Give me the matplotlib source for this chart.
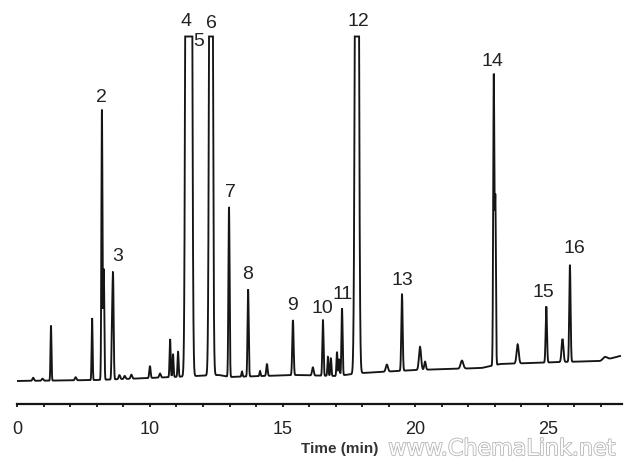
import numpy as np
import matplotlib
matplotlib.use("Agg")
import matplotlib.pyplot as plt
import matplotlib.patheffects as pe
from matplotlib import font_manager as fm
from matplotlib.ticker import MultipleLocator

# ---------------- data ----------------
# baseline level of the detector trace (time in min, response in arbitrary units)
base_time = [5.0, 8.0, 10.0, 11.7, 12.6, 13.0, 15.5, 17.0, 18.0, 20.0, 22.5, 23.2, 25.5, 27.0, 27.72]
base_level = [23, 24, 26, 28, 29, 27, 29, 28, 31, 34, 36, 40, 42, 43, 48]

# peaks: retention time (min), height above baseline, width (sigma, min)
peak_time = [5.60, 5.95, 6.27, 7.20, 7.82, 8.19, 8.26, 8.57, 8.61, 8.85, 9.05, 9.30,
             10.00, 10.38, 10.76, 10.87, 11.06, 11.40, 11.53, 12.30, 12.98, 13.47,
             13.70, 14.15, 14.41, 15.39, 16.14, 16.52, 16.71, 16.82, 17.05, 17.13,
             17.24, 17.80, 18.93, 19.50, 20.18, 20.37, 21.76, 22.96, 23.02, 23.86,
             24.94, 25.55, 25.83, 27.15]
peak_height = [3, 2, 55, 3, 62, 270, 110, 45, 100, 4, 3, 4,
               12, 4, 38, 23, 25, 1400, 1100, 1400, 170, 5,
               87, 5, 12, 55, 8, 56, 19, 18, 24, 16,
               67, 1400, 7, 77, 23, 8, 8, 290, 163, 19,
               56, 23, 97, 3]
peak_sigma = [0.03, 0.03, 0.018, 0.03, 0.018, 0.02, 0.02, 0.02, 0.022, 0.03, 0.03, 0.03,
              0.025, 0.03, 0.02, 0.02, 0.02, 0.045, 0.045, 0.045, 0.022, 0.02,
              0.022, 0.02, 0.025, 0.025, 0.03, 0.022, 0.02, 0.02, 0.02, 0.02,
              0.022, 0.05, 0.04, 0.025, 0.04, 0.03, 0.05, 0.022, 0.02, 0.04,
              0.025, 0.035, 0.025, 0.08]

# numbered peak labels
label_names = ["2", "3", "4", "5", "6", "7", "8", "9", "10", "11", "12", "13", "14", "15", "16"]
label_times = [8.19, 8.61, 11.40, 11.53, 12.30, 12.98, 13.70, 15.39, 16.52, 17.24, 17.80,
               19.50, 22.96, 24.94, 25.83]

tick_pos = [5, 10, 15, 20, 25]
tick_labels = ["0", "10", "15", "20", "25"]
xlabel_text = "Time (min)"
watermark = "www.ChemaLink.net"

# ---------------- style / layout ----------------
names = {f.name for f in fm.fontManager.ttflist}
narrow = "Liberation Sans Narrow" if "Liberation Sans Narrow" in names else "Liberation Sans"

W, H = 635, 471
fig = plt.figure(figsize=(W / 100, H / 100), dpi=100)
px_left, px_right, px_bottom, px_top = 17.3, 622, 404, 35
ax = fig.add_axes([px_left / W, 1 - px_bottom / H, (px_right - px_left) / W,
                   (px_bottom - px_top) / H])
XMIN, XMAX = 5.0, 5.0 + (px_right - px_left) / 26.53
YTOP = 369.0
SAT = 367.5

t = np.linspace(5.0, 27.72, 12000)
sig = np.interp(t, base_time, base_level)
for tp, hp, sp in zip(peak_time, peak_height, peak_sigma):
    sig = sig + hp * np.exp(-0.5 * ((t - tp) / sp) ** 2)
sig = np.minimum(sig, SAT)

ax.plot(t, sig, color="#151515", lw=1.35, solid_joinstyle="miter")
ax.set_xlim(XMIN, XMAX)
ax.set_ylim(0, YTOP)

for s in ("top", "right", "left"):
    ax.spines[s].set_visible(False)
ax.spines["bottom"].set_linewidth(1.6)
ax.spines["bottom"].set_color("#151515")
ax.set_yticks([])
ax.set_xticks(tick_pos)
ax.set_xticklabels(tick_labels, fontfamily=narrow, fontsize=13, color="#222222")
ax.xaxis.set_minor_locator(MultipleLocator(1))
ax.tick_params(axis="x", which="both", direction="out", length=2.5, width=1.3,
               color="#151515", pad=10)

# peak labels: (dx px, dy px) offsets from the peak apex
label_offsets = {"2": (0, 4), "3": (5, 7), "4": (-1, 7), "5": (8, -13), "6": (0, 5),
                 "7": (1, 6), "8": (-1, 6), "9": (0, 6), "10": (-1, 3), "11": (1, 5),
                 "12": (1, 6), "13": (0, 5), "14": (-1, 4), "15": (-3, 5), "16": (4, 8)}
for name, lt in zip(label_names, label_times):
    i = np.argmin(np.abs(t - lt))
    ytop = sig[max(i - 20, 0):i + 20].max()
    dx, dy = label_offsets[name]
    ax.annotate(name, xy=(lt, ytop), xytext=(dx * 0.72, dy * 0.72),
                textcoords="offset points", ha="center", va="bottom",
                fontfamily=narrow, fontsize=14, color="#222222", annotation_clip=False)

fig.text(340 / W, 1 - 449 / H, xlabel_text, ha="center", va="center",
         fontfamily=narrow, fontweight="bold", fontsize=11, color="#333333")
fig.text(502 / W, 1 - 449 / H, watermark, ha="center", va="center",
         fontfamily="DejaVu Sans", fontsize=16, color="white",
         path_effects=[pe.withStroke(linewidth=1.2, foreground="#b5b5b5")])

fig.savefig("out.png", dpi=100, facecolor="white")
